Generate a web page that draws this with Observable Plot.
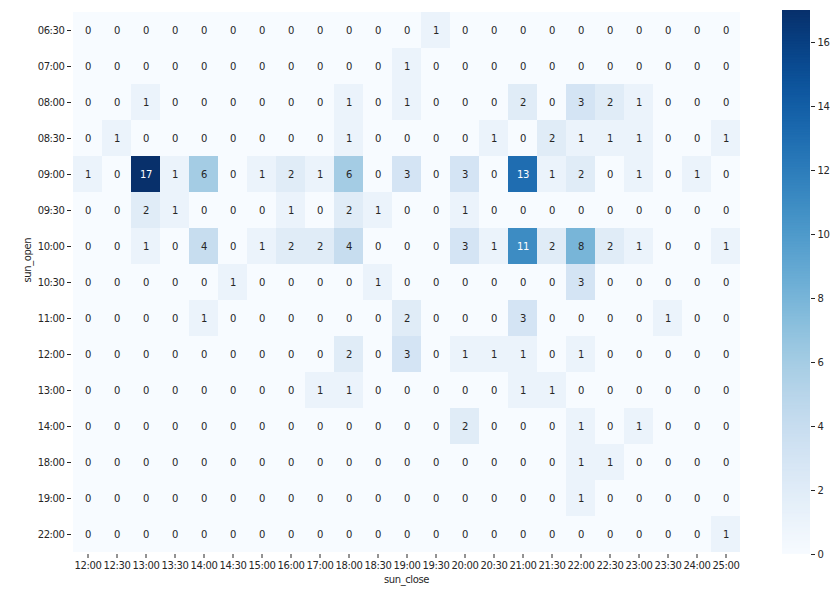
<!DOCTYPE html>
<html>
<head>
<meta charset="utf-8">
<script src="https://cdn.jsdelivr.net/npm/d3@7"></script>
<script src="https://cdn.jsdelivr.net/npm/@observablehq/plot@0.6"></script>
<style>
  html, body { margin: 0; padding: 0; background: #fff; }
  #wrap { position: relative; width: 840px; height: 604px; font-family: "DejaVu Sans", sans-serif; }
  #wrap svg { position: absolute; top: 0; }
</style>
</head>
<body>
<div id="wrap"></div>
<script>
const sunOpen = ["06:30","07:00","08:00","08:30","09:00","09:30","10:00","10:30","11:00","12:00","13:00","14:00","18:00","19:00","22:00"];
const sunClose = ["12:00","12:30","13:00","13:30","14:00","14:30","15:00","16:00","17:00","18:00","18:30","19:00","19:30","20:00","20:30","21:00","21:30","22:00","22:30","23:00","23:30","24:00","25:00"];
const counts = [
  [0,0,0,0,0,0,0,0,0,0,0,0,1,0,0,0,0,0,0,0,0,0,0],
  [0,0,0,0,0,0,0,0,0,0,0,1,0,0,0,0,0,0,0,0,0,0,0],
  [0,0,1,0,0,0,0,0,0,1,0,1,0,0,0,2,0,3,2,1,0,0,0],
  [0,1,0,0,0,0,0,0,0,1,0,0,0,0,1,0,2,1,1,1,0,0,1],
  [1,0,17,1,6,0,1,2,1,6,0,3,0,3,0,13,1,2,0,1,0,1,0],
  [0,0,2,1,0,0,0,1,0,2,1,0,0,1,0,0,0,0,0,0,0,0,0],
  [0,0,1,0,4,0,1,2,2,4,0,0,0,3,1,11,2,8,2,1,0,0,1],
  [0,0,0,0,0,1,0,0,0,0,1,0,0,0,0,0,0,3,0,0,0,0,0],
  [0,0,0,0,1,0,0,0,0,0,0,2,0,0,0,3,0,0,0,0,1,0,0],
  [0,0,0,0,0,0,0,0,0,2,0,3,0,1,1,1,0,1,0,0,0,0,0],
  [0,0,0,0,0,0,0,0,1,1,0,0,0,0,0,1,1,0,0,0,0,0,0],
  [0,0,0,0,0,0,0,0,0,0,0,0,0,2,0,0,0,1,0,1,0,0,0],
  [0,0,0,0,0,0,0,0,0,0,0,0,0,0,0,0,0,1,1,0,0,0,0],
  [0,0,0,0,0,0,0,0,0,0,0,0,0,0,0,0,0,1,0,0,0,0,0],
  [0,0,0,0,0,0,0,0,0,0,0,0,0,0,0,0,0,0,0,0,0,0,1]
];
const colorTicks = [0,2,4,6,8,10,12,14,16];
const vmax = 17;

const table = sunOpen.flatMap((o, i) => sunClose.map((c, j) => ({open: o, close: c, n: counts[i][j]})));

const textColor = "#262626";
const fs = 10;
const baseStyle = {fontFamily: "DejaVu Sans, sans-serif", fontSize: fs + "px", color: textColor, background: "transparent", letterSpacing: "-0.4px"};
const colorScale = {type: "linear", domain: [0, vmax], scheme: "blues"};

const main = Plot.plot({
  width: 840,
  height: 604,
  marginLeft: 71,
  marginRight: 99,
  marginTop: 10,
  marginBottom: 50,
  style: baseStyle,
  x: {domain: sunClose, padding: 0, label: null},
  y: {domain: sunOpen, padding: 0, label: null},
  color: colorScale,
  marks: [
    Plot.cell(table, {x: "close", y: "open", fill: "n", inset: 0}),
    Plot.text(table, {x: "close", y: "open", text: "n", fill: d => d.n >= 10 ? "white" : textColor, fontSize: fs}),
    Plot.axisX({tickSize: 4, tickPadding: 3, fontSize: fs, label: null}),
    Plot.axisY({tickSize: 4, tickPadding: 3, fontSize: fs, label: null}),
    Plot.text(["sun_close"], {frameAnchor: "bottom", dy: 28, text: d => d, fontSize: fs}),
    Plot.text(["sun_open"], {frameAnchor: "left", dx: -44, rotate: -90, text: d => d, fontSize: fs})
  ]
});

const step = 0.05;
const steps = d3.range(0, vmax, step);
const bar = Plot.plot({
  width: 140,
  height: 604,
  marginLeft: 82,
  marginRight: 30,
  marginTop: 10,
  marginBottom: 50,
  style: baseStyle,
  x: {domain: [0, 1], axis: null},
  y: {domain: [0, vmax], label: null},
  color: colorScale,
  marks: [
    Plot.rect(steps, {x1: 0, x2: 1, y1: d => d, y2: d => Math.min(vmax, d + step * 1.5), fill: d => d + step / 2}),
    Plot.axisY({anchor: "right", ticks: colorTicks, tickSize: 4, tickPadding: 3, fontSize: fs, label: null})
  ]
});

const wrap = document.getElementById("wrap");
main.style.left = "0px";
bar.style.left = "700px";
wrap.appendChild(main);
wrap.appendChild(bar);
</script>
</body>
</html>
